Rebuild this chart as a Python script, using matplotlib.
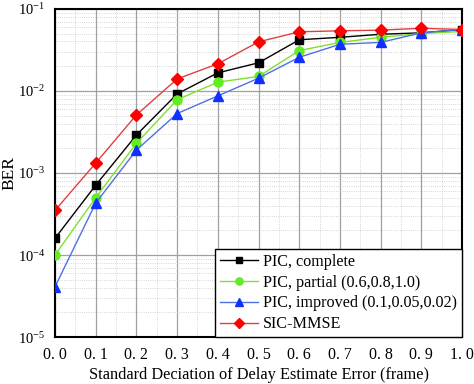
import matplotlib
matplotlib.use("Agg")
import matplotlib.pyplot as plt
from matplotlib.ticker import FixedLocator, LogLocator, NullFormatter

x = [0.0, 0.1, 0.2, 0.3, 0.4, 0.5, 0.6, 0.7, 0.8, 0.9, 1.0]
pic_complete = [1.6e-4, 7.1e-4, 2.9e-3, 9.2e-3, 1.66e-2, 2.2e-2, 4.2e-2, 4.5e-2, 4.9e-2, 5.1e-2, 5.6e-2]
pic_partial = [1.0e-4, 5.0e-4, 2.3e-3, 7.8e-3, 1.28e-2, 1.5e-2, 3.1e-2, 3.9e-2, 4.5e-2, 5.0e-2, 5.3e-2]
pic_improved = [4.1e-5, 4.3e-4, 1.9e-3, 5.3e-3, 8.7e-3, 1.43e-2, 2.57e-2, 3.7e-2, 3.9e-2, 5.1e-2, 5.6e-2]
sic_mmse = [3.5e-4, 1.32e-3, 5.1e-3, 1.4e-2, 2.14e-2, 3.96e-2, 5.25e-2, 5.4e-2, 5.5e-2, 5.8e-2, 5.6e-2]
labels = ["PIC, complete", "PIC, partial (0.6,0.8,1.0)", "PIC, improved (0.1,0.05,0.02)", "SIC-MMSE"]
xtick_labels = ["0. 0", "0. 1", "0. 2", "0. 3", "0. 4", "0. 5", "0. 6", "0. 7", "0. 8", "0. 9", "1. 0"]

plt.rcParams['font.family'] = ['Liberation Serif', 'DejaVu Serif']
plt.rcParams['mathtext.fontset'] = 'stix'

fig = plt.figure(figsize=(4.74, 3.84), dpi=100)
ax = fig.add_axes([0.116, 0.122, 0.859, 0.855])

series = [
    (pic_complete, '#000000', '#000000', 's', 6),
    (pic_partial, '#80e030', '#60ee20', 'o', 6.5),
    (pic_improved, '#5070e0', '#1030ff', '^', 7),
    (sic_mmse, '#e04040', '#ff0000', 'D', 6),
]
for (vals, lc, mc, m, ms), lab in zip(series, labels):
    ax.plot(x, vals, color=lc, lw=1.0, marker=m, ms=ms, mfc=mc, mec=mc, label=lab, zorder=3)

ax.set_yscale('log')
ax.set_xlim(0, 1.0)
ax.set_ylim(1e-5, 1e-1)
ax.set_xticks(x)
ax.set_xticklabels(xtick_labels)
ax.xaxis.set_minor_locator(FixedLocator([0.05 + 0.1 * i for i in range(10)]))
ax.yaxis.set_minor_locator(LogLocator(base=10, subs=range(2, 10)))
ax.yaxis.set_minor_formatter(NullFormatter())
ax.grid(True, which='major', color='#a0a0a0', lw=0.9, ls='-')
ax.grid(True, which='minor', color='#c8c8c8', lw=0.6, ls=':')
ax.tick_params(which='both', length=0)
ax.tick_params(axis='x', pad=7, labelsize=11.5)
ax.tick_params(axis='y', pad=7, labelsize=10.5)
for s in ax.spines.values():
    s.set_linewidth(1.5)
    s.set_color('black')

ax.set_xlabel("Standard Deciation of Delay Estimate Error (frame)", fontsize=11.8, labelpad=3)
ax.set_ylabel("BER", fontsize=12.5)
ax.yaxis.set_label_coords(-0.092, 0.5)

leg = ax.legend(loc='lower right', fontsize=11.6, frameon=True, fancybox=False,
                borderaxespad=0, handlelength=2.4, handletextpad=0.3,
                labelspacing=0.3, borderpad=0.3, markerscale=0.8)
leg.get_frame().set_edgecolor('black')
leg.get_frame().set_linewidth(1.0)
leg.get_frame().set_alpha(1)

fig.savefig("out.png", dpi=100)
